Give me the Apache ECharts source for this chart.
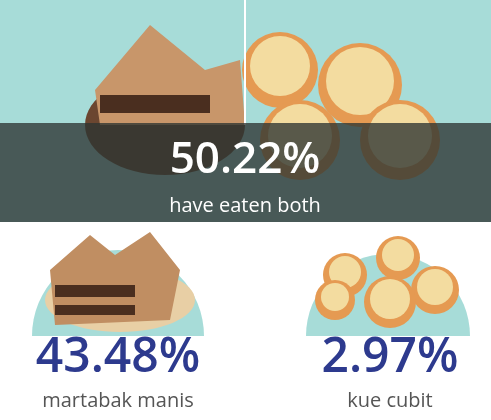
<!DOCTYPE html>
<html><head><meta charset="utf-8">
<script src="https://cdn.jsdelivr.net/npm/echarts@6/dist/echarts.min.js"></script>
<style>html,body{margin:0;padding:0;background:#fff}#c{width:491px;height:420px}</style>
</head><body><div id="c"></div>
<script>
const labels = ["have eaten both", "martabak manis", "kue cubit"];
const values = [50.22, 43.48, 2.97];

const chart = echarts.init(document.getElementById('c'));
const teal = '#a7dcd8';
const fmt = v => v.toFixed(2) + '%';
const g = [];
g.push({type:'rect', shape:{x:0,y:0,width:491,height:222}, style:{fill:teal}});
g.push({type:'ellipse', shape:{cx:165,cy:125,rx:80,ry:50}, style:{fill:'#6b4630'}});
g.push({type:'polygon', shape:{points:[[95,90],[150,25],[205,70],[240,60],[245,125],[100,125]]}, style:{fill:'#c8966a'}});
g.push({type:'rect', shape:{x:100,y:95,width:110,height:18}, style:{fill:'#4a2e1f'}});
const kc = [[280,70,38],[360,85,42],[300,140,40],[400,140,40]];
kc.forEach(c=>{
  g.push({type:'circle', shape:{cx:c[0],cy:c[1],r:c[2]}, style:{fill:'#e59a52'}});
  g.push({type:'circle', shape:{cx:c[0],cy:c[1]-4,r:c[2]-8}, style:{fill:'#f3dca0'}});
});
g.push({type:'line', shape:{x1:245,y1:0,x2:245,y2:125}, style:{stroke:'#ffffff',lineWidth:2}});
g.push({type:'rect', shape:{x:0,y:123,width:491,height:99}, style:{fill:'rgba(45,52,50,0.78)'}});
g.push({type:'text', x:245, y:160, style:{text:fmt(values[0]), fill:'#fff', font:'600 44px "Open Sans"', align:'center', verticalAlign:'middle'}});
g.push({type:'text', x:245, y:206, style:{text:labels[0], fill:'#fff', font:'20px "Open Sans"', align:'center', verticalAlign:'middle'}});
g.push({type:'sector', shape:{cx:118,cy:336,r:86,startAngle:Math.PI,endAngle:2*Math.PI}, style:{fill:teal}});
g.push({type:'sector', shape:{cx:388,cy:336,r:82,startAngle:Math.PI,endAngle:2*Math.PI}, style:{fill:teal}});
g.push({type:'ellipse', shape:{cx:120,cy:300,rx:75,ry:32}, style:{fill:'#e8cfa5'}});
g.push({type:'polygon', shape:{points:[[50,270],[90,235],[115,255],[150,232],[180,270],[170,320],[55,325]]}, style:{fill:'#c08e62'}});
g.push({type:'rect', shape:{x:55,y:285,width:80,height:12}, style:{fill:'#4a2e1f'}});
g.push({type:'rect', shape:{x:55,y:305,width:80,height:10}, style:{fill:'#4a2e1f'}});
[[345,275,22],[398,258,22],[435,290,24],[335,300,20],[390,302,26]].forEach(c=>{
  g.push({type:'circle', shape:{cx:c[0],cy:c[1],r:c[2]}, style:{fill:'#e59a52'}});
  g.push({type:'circle', shape:{cx:c[0],cy:c[1]-3,r:c[2]-6}, style:{fill:'#f3dca0'}});
});
g.push({type:'text', x:118, y:358, style:{text:fmt(values[1]), fill:'#2d3a8e', font:'600 48px "Open Sans"', align:'center', verticalAlign:'middle'}});
g.push({type:'text', x:118, y:401, style:{text:labels[1], fill:'#555', font:'20px "Open Sans"', align:'center', verticalAlign:'middle'}});
g.push({type:'text', x:390, y:358, style:{text:fmt(values[2]), fill:'#2d3a8e', font:'600 48px "Open Sans"', align:'center', verticalAlign:'middle'}});
g.push({type:'text', x:390, y:401, style:{text:labels[2], fill:'#555', font:'20px "Open Sans"', align:'center', verticalAlign:'middle'}});
chart.setOption({animation:false, graphic:{elements:g}});
</script></body></html>
